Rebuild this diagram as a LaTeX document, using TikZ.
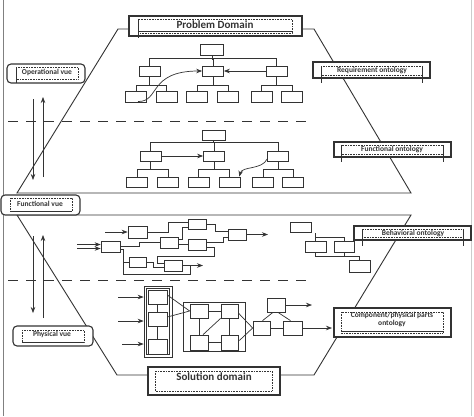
\documentclass[tikz,border=0pt]{standalone}
\usepackage{fontspec}
\setmainfont{Carlito}
\usetikzlibrary{arrows.meta,backgrounds}
\definecolor{ln}{gray}{0.2}
\tikzset{
 bx/.style={draw=ln, line width=0.7pt, minimum width=21pt, minimum height=10pt, inner sep=0pt, fill=white},
 arr/.style={-{Stealth[length=6pt,width=4.5pt]}, line width=0.7pt, draw=ln},
 wire/.style={line width=0.7pt, draw=ln},
 trap/.style={line width=0.9pt, draw=ln},
 lbl/.style={draw=ln, line width=1.1pt, fill=white, inner sep=0pt},
 vue/.style={lbl, rounded corners=4pt},
 small/.style={font=\bfseries\fontsize{7.5}{8.5}\selectfont, inner sep=0pt, text=ln},
 big/.style={font=\bfseries\fontsize{11}{12}\selectfont, inner sep=0pt, text=ln},
 dotbox/.style={densely dotted, line width=0.6pt, draw=ln},
 dsh/.style={line width=0.8pt, draw=ln, dash pattern=on 10pt off 8pt},
}
\begin{document}
\begin{tikzpicture}[x=1pt,y=-1pt]
\useasboundingbox (0,0) rectangle (474,416);

% ---------- label boxes ----------
\node[lbl, minimum width=173pt, minimum height=20pt] (pd) at (215.5,26) {};
\draw[dotbox] (138,19) rectangle (292,33);
\draw[wire] (138,31) -- (292,31);
\draw[wire] (138,19) -- (138,38);
\node[big] (pdt) at (215,24.5) {Problem Domain};

\node[lbl, minimum width=132pt, minimum height=28pt] (sd) at (214,381) {};
\draw[dotbox] (155,371) rectangle (272,391);
\node[big] (sdt) at (214,377) {Solution domain};

\node[vue, minimum width=78pt, minimum height=19pt] (ov) at (46,73.5) {};
\draw[dotbox] (16,67) rectangle (78,79);
\draw[wire] (16,67) -- (16,83);
\node[small] (ovt) at (47,72) {Operational vue};

\node[vue, minimum width=79pt, minimum height=20pt] (fv) at (40.5,205) {};
\draw[dotbox] (10,198) rectangle (72,211);
\draw[wire] (10,211) -- (72,211);
\node[small] (fvt) at (40,203.5) {Functional vue};

\node[vue, minimum width=80pt, minimum height=20pt] (pv) at (53,336) {};
\draw[dotbox] (22,330) rectangle (84,342);
\draw[wire] (22,342) -- (84,342);
\node[small] (pvt) at (52,334.5) {Physical vue};

\node[lbl, minimum width=117pt, minimum height=16pt] (ro) at (371.5,70) {};
\draw[dotbox] (321,66) rectangle (422,75);
\draw[wire] (321,66) -- (321,83) (422,66) -- (422,83);
\node[small] (rot) at (372,70) {Requirement ontology};

\node[lbl, minimum width=117pt, minimum height=15pt] (fo) at (392.5,149.5) {};
\draw[dotbox] (341,145) rectangle (443,154);
\draw[wire] (341,145) -- (341,162) (443,145) -- (443,162);
\node[small] (fot) at (392,149.5) {Functional ontology};

\node[lbl, minimum width=117pt, minimum height=14pt] (bo) at (412.5,233) {};
\draw[dotbox] (362,229) rectangle (463,237);
\draw[wire] (362,229) -- (362,246) (463,229) -- (463,246);
\node[small] (bot) at (413,233) {Behavioral ontology};

\node[lbl, minimum width=117pt, minimum height=29pt] (co) at (392.5,322.5) {};
\draw[dotbox] (341,312) rectangle (443,333);
\draw[wire] (341,331) -- (443,331);
\node[small, align=center] (cot) at (392,319.5) {Component/physical parts\\ontology};

% ---------- frame & trapezoids (behind) ----------
\begin{scope}[on background layer]
\fill[white] (0,0) rectangle (474,416);
\draw[line width=0.8pt, draw=gray] (3,0) -- (3,416);
\draw[line width=0.6pt, draw=gray!40] (471,0) -- (471,416);
\draw[trap] ([shift={(0,3)}]pd.west) -- (118,29) -- (17,193) -- (411,193) -- (314,29) -- ([shift={(0,3)}]pd.east);
\draw[trap] (sd.west |- 0,375) -- (117,375) -- (17,215) -- (411,215) -- (314,375) -- (sd.east |- 0,375);
\draw[dsh] (8,121) -- (307,121);
\draw[dsh] (8,280) -- (307,280);
\end{scope}

% ---------- left arrows ----------
\coordinate (d1s) at (33,99); \coordinate (d1e) at (33,180);
\coordinate (u1s) at (43,177); \coordinate (u1e) at (43,97);
\coordinate (d2s) at (33,236); \coordinate (d2e) at (33,313);
\coordinate (u2s) at (43,318); \coordinate (u2e) at (43,235);
\draw[arr] (d1s) -- (d1e);
\draw[arr] (u1s) -- (u1e);
\draw[arr] (d2s) -- (d2e);
\draw[arr] (u2s) -- (u2e);

% ---------- tree 1 ----------
\node[bx, minimum width=23pt, minimum height=11pt] (r1) at (212,50) {};
\node[bx] (a1) at (149.5,71) {};
\node[bx] (b1) at (213,71) {};
\node[bx] (c1) at (276.5,71) {};
\foreach \n/\x in {a11/136,a12/166.5,b11/197,b12/228,c11/261.5,c12/292}
  \node[bx, minimum height=11pt] (\n) at (\x,96.5) {};
\draw[wire] (r1.south) -- ++(0,4);
\draw[wire] (a1.north) -- ++(0,-7) -| (c1.north);
\draw[wire] (b1.north) -- ++(0,-7);
\foreach \p in {a1,b1,c1} {
  \draw[wire] (\p.south) -- ++(0,10);
  \draw[wire] (\p1.north) -- ++(0,-5.5) -| (\p2.north);
}
\draw[arr] (138,101.5) .. controls (160,102) and (148,71) .. (b1.west);
\draw[arr] (c1.west) -- (b1.east);

% ---------- tree 2 ----------
\node[bx, minimum width=23pt] (r2) at (213.5,135) {};
\node[bx] (a2) at (150.5,156) {};
\node[bx] (b2) at (214,156) {};
\node[bx] (c2) at (278,156) {};
\foreach \n/\x in {a21/137,a22/168,b21/198.5,b22/229.5,c21/263,c22/293}
  \node[bx] (\n) at (\x,182) {};
\draw[wire] (r2.south) -- ++(0,3);
\draw[wire] (a2.north) -- ++(0,-8) -| (c2.north);
\draw[wire] (b2.north) -- ++(0,-8);
\foreach \p in {a2,b2,c2} {
  \draw[wire] (\p.south) -- ++(0,9);
  \draw[wire] (\p1.north) -- ++(0,-7) -| (\p2.north);
}
\draw[arr] (a2.east) -- (b2.west);
\draw[arr] ([shift={(0,3)}]c2.west) .. controls (262,170) and (242,166) .. ([shift={(-1,0)}]b22.north east);

% ---------- behavioural network ----------
\node[bx, minimum width=19pt, minimum height=12pt] (A) at (137.5,232) {};
\node[bx, minimum width=19pt, minimum height=11pt] (B) at (110.5,246.5) {};
\node[bx, minimum width=18pt, minimum height=11pt] (C) at (169,242.5) {};
\node[bx, minimum width=18pt, minimum height=10pt] (D) at (197,224) {};
\node[bx, minimum width=18pt, minimum height=11pt] (E) at (197,244.5) {};
\node[bx, minimum width=17pt, minimum height=10pt] (F) at (137.5,262) {};
\node[bx, minimum width=18pt, minimum height=11pt] (G) at (173,265.5) {};
\node[bx, minimum width=18pt, minimum height=11pt] (H) at (237,234.5) {};
\coordinate (ina) at (105,232);
\coordinate (inb1) at (77,244.5);
\coordinate (inb2) at (77,248.5);
\coordinate (outh) at (268,234.5);
\coordinate (outg) at (203,265.5);
\draw[arr] (ina) -- (A.west);
\draw[arr] (inb1) -- ([shift={(0,-2)}]B.west);
\draw[arr] (inb2) -- ([shift={(0,2)}]B.west);
\draw[arr] (H.east) -- (outh);
\draw[arr] (G.east) -- (outg);
\draw[wire] (A.east) -- (168,232) -- (168,222) -- ([shift={(0,-2)}]D.west);
\draw[wire] (D.east) -- (215,224) -- (215,231) -- ([shift={(0,-3.5)}]H.west);
\draw[wire] (B.east) -- (139,246.5) -- (139,242.5) -- (C.west);
\draw[wire] ([shift={(0,-3)}]C.east) -- (182,239.5) -- (182,227) -- ([shift={(0,3)}]D.west);
\draw[wire] ([shift={(0,2)}]C.east) -- (E.west);
\draw[wire] ([shift={(0,-2)}]E.east) -- (223,242.5) -- (223,237) -- ([shift={(0,2.5)}]H.west);
\draw[wire] ([shift={(0,3)}]E.east) -- (214,247.5) -- (214,256) -- (157,256) -- (157,263) -- ([shift={(0,-2.5)}]G.west);
\draw[wire] ([shift={(0,3)}]B.east) -- (123,249.5) -- (123,262) -- (F.west);
\draw[wire] (F.east) -- (153,262) -- (153,267) -- ([shift={(0,1.5)}]G.west);
\draw[wire] (123,262) -- (123,274) -- (190,274) -- (190,265.5);

% small behavioural tree
\node[bx] (P) at (300.5,227.5) {};
\node[bx, minimum height=11pt] (Q) at (315.5,246.5) {};
\node[bx, minimum width=20pt, minimum height=11pt] (R) at (344,246.5) {};
\node[bx, minimum height=12pt] (S) at (359.5,266) {};
\draw[wire] (315.5,233) -- (Q.north);
\draw[wire] (315.5,237) -| (R.north);
\draw[wire] (Q.south) -- ++(0,4) -| (S.north);
\draw[wire] (R.south) -- ++(0,4);

% ---------- physical network ----------
\node[bx, minimum width=28pt, minimum height=71pt] (kc) at (158,321.5) {};
\draw[wire] (146.5,288.5) rectangle (169.5,354.5);
\node[bx, minimum width=19pt, minimum height=14pt] (K1) at (157.5,297) {};
\node[bx, minimum width=19pt, minimum height=14pt] (K2) at (157.5,319) {};
\node[bx, minimum width=19pt, minimum height=15pt] (K3) at (157.5,346.5) {};
\draw[wire] (K1.south) -- (K2.north);
\draw[wire] (K2.south) -- (K3.north);
\coordinate (ik1) at (118,297);
\coordinate (ik2) at (118,321);
\coordinate (ik3) at (122,344);
\draw[arr] (ik1) -- (kc.west |- ik1);
\draw[arr] (ik2) -- (kc.west |- ik2);
\draw[arr] (ik3) -- (kc.west |- ik3);

\node[bx, minimum width=62pt, minimum height=49pt] (lc) at (214,326.5) {};
\node[bx, minimum width=18pt, minimum height=14pt] (L1) at (199,311) {};
\node[bx, minimum width=17pt, minimum height=14pt] (L2) at (229.5,311) {};
\node[bx, minimum width=18pt, minimum height=15pt] (L3) at (199,342.5) {};
\node[bx, minimum width=17pt, minimum height=15pt] (L4) at (229.5,342.5) {};
\draw[wire] (L1.east) -- (L2.west);
\draw[wire] (L3.east) -- (L4.west);
\draw[wire] (L1.south) -- (L3.north);
\draw[wire] (L2.south) -- (L4.north);
\draw[wire] ([shift={(4,0)}]L3.north) -- (L2.south west);
\draw[wire] ([shift={(0,-2)}]K1.east) -- (L1.west);
\draw[wire] ([shift={(0,-2)}]K2.east) -- (L1.west);

\node[bx, minimum width=18pt, minimum height=14pt] (M0) at (276,305) {};
\node[bx, minimum width=17pt, minimum height=14pt] (M1) at (261.5,328) {};
\node[bx, minimum width=19pt, minimum height=14pt] (M2) at (292.5,328) {};
\draw[wire] ([shift={(0,2)}]L2.east) -- (M1.west);
\draw[wire] ([shift={(1,-2)}]L4.east) -- (M1.west);
\draw[wire] ([shift={(-3,0)}]M0.south) -- ([shift={(1,0)}]M1.north);
\draw[wire] ([shift={(2,0)}]M0.south) -- ([shift={(-2,0)}]M2.north);
\draw[wire] (M1.east) -- (M2.west);
\coordinate (om0) at (312,305);
\coordinate (om2) at (332,328);
\draw[arr] (M0.east) -- (om0);
\draw[arr] (M2.east) -- (om2);
\end{tikzpicture}
\end{document}
